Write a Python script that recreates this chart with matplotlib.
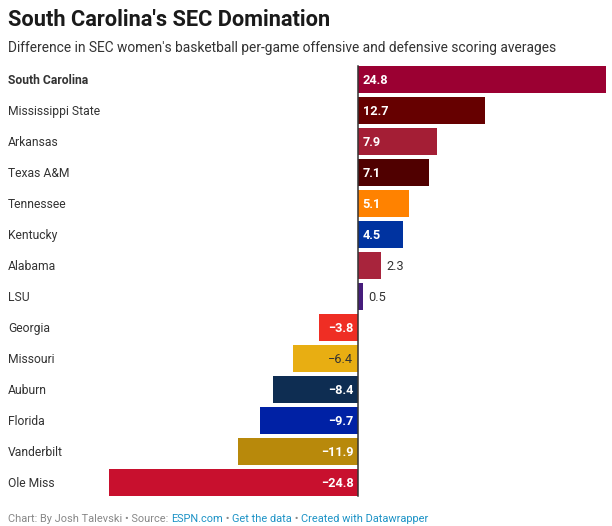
import matplotlib
matplotlib.use("Agg")
import matplotlib.pyplot as plt
from matplotlib.transforms import offset_copy, blended_transform_factory

teams = ["South Carolina", "Mississippi State", "Arkansas", "Texas A&M", "Tennessee",
         "Kentucky", "Alabama", "LSU", "Georgia", "Missouri", "Auburn", "Florida",
         "Vanderbilt", "Ole Miss"]
values = [24.8, 12.7, 7.9, 7.1, 5.1, 4.5, 2.3, 0.5, -3.8, -6.4, -8.4, -9.7, -11.9, -24.8]
colors = ["#9b0032", "#660000", "#a41e35", "#500000", "#ff8200", "#0033a0", "#a8243c",
          "#461d7c", "#ef2e24", "#e8ae12", "#0e2d52", "#0021a5", "#b8890b", "#c8102e"]
value_labels = ["24.8", "12.7", "7.9", "7.1", "5.1", "4.5", "2.3", "0.5", "\u22123.8",
                "\u22126.4", "\u22128.4", "\u22129.7", "\u221211.9", "\u221224.8"]
label_inside = [True, True, True, True, True, True, False, False, True, True, True, True, True, True]
label_dark = [False] * 9 + [True] + [False] * 4

W, H = 612, 526
plt.rcParams['font.family'] = ['Roboto', 'DejaVu Sans']
fig = plt.figure(figsize=(W / 100, H / 100), dpi=100)
fig.patch.set_facecolor("white")

ax_left, ax_right = 109, 606
ax_top, ax_bot = 63.8, 497.8
ax = fig.add_axes([ax_left / W, 1 - ax_bot / H, (ax_right - ax_left) / W, (ax_bot - ax_top) / H])
n = len(teams)
ypos = list(range(n))
ax.barh(ypos, values, height=0.87, color=colors, zorder=2)
ax.set_xlim(-24.8, 24.8)
ax.set_ylim(n - 0.5, -0.5)
ax.axvline(0, ymin=0.005, ymax=0.995, color="#333333", lw=1.1, zorder=3)
for s in ax.spines.values():
    s.set_visible(False)
ax.set_xticks([])
ax.set_yticks([])

VFS = 9.2
for i, (v, lab) in enumerate(zip(values, value_labels)):
    if label_inside[i]:
        col = "#333333" if label_dark[i] else "white"
        wt = "normal" if label_dark[i] else "bold"
        if v >= 0:
            tr = offset_copy(ax.transData, fig=fig, x=5, y=0, units="dots")
            ax.text(0, i, lab, transform=tr, ha="left", va="center_baseline",
                    color=col, fontsize=VFS, fontweight=wt, zorder=4)
        else:
            tr = offset_copy(ax.transData, fig=fig, x=-4, y=0, units="dots")
            ax.text(0, i, lab, transform=tr, ha="right", va="center_baseline",
                    color=col, fontsize=VFS, fontweight=wt, zorder=4)
    else:
        tr = offset_copy(ax.transData, fig=fig, x=6, y=0, units="dots")
        ax.text(v, i, lab, transform=tr, ha="left", va="center_baseline",
                color="#333333", fontsize=VFS, zorder=4)

# team labels
tr = blended_transform_factory(fig.transFigure, ax.transData)
for i, t in enumerate(teams):
    ax.text(8 / W, i, t, transform=tr, ha="left", va="center_baseline",
            color="#333333", fontsize=8.7,
            fontweight="bold" if i == 0 else "normal")

fig.text(8 / W, 1 - 26 / H, "South Carolina's SEC Domination", fontsize=15.7,
         fontweight="bold", color="#1a1a1a", ha="left", va="baseline")
fig.text(8 / W, 1 - 52 / H, "Difference in SEC women's basketball per-game offensive and defensive scoring averages",
         fontsize=9.95, color="#333333", ha="left", va="baseline")

# footer
parts = [("Chart: By Josh Talevski \u2022 Source: ", "#888888"), ("ESPN.com", "#1d93c6"),
         (" \u2022 ", "#888888"), ("Get the data", "#1d93c6"), (" \u2022 ", "#888888"),
         ("Created with Datawrapper", "#1d93c6")]
renderer = fig.canvas.get_renderer()
x = 8.0
for txt, c in parts:
    t = fig.text(x / W, 1 - 522.5 / H, txt, fontsize=7.9, color=c, ha="left", va="baseline")
    bb = t.get_window_extent(renderer=renderer)
    x += bb.width

fig.savefig("out.png", dpi=100, facecolor="white")
